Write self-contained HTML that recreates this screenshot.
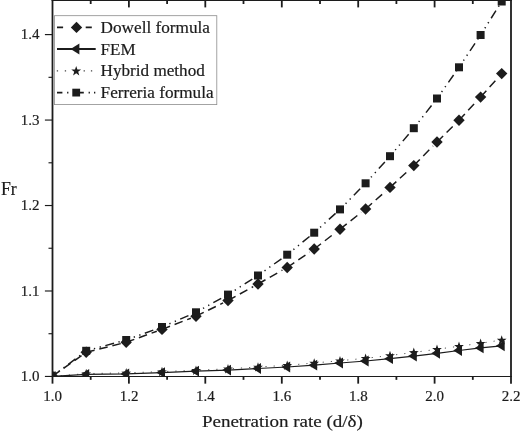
<!DOCTYPE html>
<html><head><meta charset="utf-8"><title>Fr vs penetration rate</title>
<style>html,body{margin:0;padding:0;background:#fff}svg{display:block}text{font-family:"Liberation Serif",serif;fill:#1c1c1c;stroke:#1c1c1c;stroke-width:0.2px}</style></head>
<body>
<svg width="520" height="432" viewBox="0 0 520 432">
<rect width="520" height="432" fill="#fff"/>
<defs><clipPath id="c"><rect x="52.5" y="0.4" width="458.5" height="376.05"/></clipPath></defs>
<g clip-path="url(#c)" stroke="#1c1c1c" fill="none" stroke-width="1.5">
<g stroke-dasharray="8.6 4.9">
<line x1="52.5" y1="376.2" x2="81.7" y2="355.5"/>
<line x1="86.2" y1="352.3" x2="120.9" y2="343.6"/>
<line x1="126.2" y1="342.3" x2="156.8" y2="331.3"/>
<line x1="162.0" y1="329.4" x2="190.9" y2="318.2"/>
<line x1="196.0" y1="316.2" x2="223.1" y2="302.9"/>
<line x1="228.0" y1="300.5" x2="253.2" y2="286.7"/>
<line x1="258.0" y1="284.0" x2="282.4" y2="270.2"/>
<line x1="287.2" y1="267.5" x2="309.7" y2="252.1"/>
<line x1="314.2" y1="249.0" x2="335.6" y2="232.5"/>
<line x1="340.0" y1="229.2" x2="361.3" y2="212.4"/>
<line x1="365.6" y1="209.0" x2="385.9" y2="191.0"/>
<line x1="390.0" y1="187.4" x2="409.7" y2="169.3"/>
<line x1="413.8" y1="165.6" x2="433.1" y2="145.9"/>
<line x1="437.0" y1="142.0" x2="455.1" y2="124.1"/>
<line x1="459.0" y1="120.2" x2="476.8" y2="101.1"/>
<line x1="480.6" y1="97.1" x2="498.0" y2="77.7"/>
</g>
<g stroke-dasharray="9 4.6 1.3 4.6 1.3 4.6" stroke-dashoffset="5.6">
<line x1="52.5" y1="376.2" x2="86.2" y2="350.8"/>
<line x1="86.2" y1="350.8" x2="126.2" y2="340.0"/>
<line x1="126.2" y1="340.0" x2="162.0" y2="327.0"/>
<line x1="162.0" y1="327.0" x2="196.0" y2="312.3"/>
<line x1="196.0" y1="312.3" x2="228.0" y2="294.6"/>
<line x1="228.0" y1="294.6" x2="258.0" y2="275.5"/>
<line x1="258.0" y1="275.5" x2="287.2" y2="254.7"/>
<line x1="287.2" y1="254.7" x2="314.2" y2="232.7"/>
<line x1="314.2" y1="232.7" x2="340.0" y2="209.4"/>
<line x1="340.0" y1="209.4" x2="365.6" y2="183.3"/>
<line x1="365.6" y1="183.3" x2="390.0" y2="156.2"/>
<line x1="390.0" y1="156.2" x2="413.8" y2="128.2"/>
<line x1="413.8" y1="128.2" x2="437.0" y2="98.5"/>
<line x1="437.0" y1="98.5" x2="459.0" y2="67.3"/>
<line x1="459.0" y1="67.3" x2="480.6" y2="35.0"/>
<line x1="480.6" y1="35.0" x2="501.7" y2="1.5"/>
</g>
<polyline points="52.5,376.4 86.2,373.6 126.2,372.9 162.0,371.6 196.0,370.3 228.0,368.8 258.0,367.0 287.2,365.3 314.2,363.0 340.0,360.7 365.6,358.3 390.0,355.5 413.8,352.4 437.0,349.3 459.0,346.2 480.6,343.3 501.7,340.0" stroke-dasharray="1.2 7" stroke-width="1.0" stroke="#555"/>
<polyline points="52.5,376.4 86.2,374.4 126.2,373.9 162.0,372.6 196.0,371.2 228.0,370.1 258.0,368.5 287.2,367.0 314.2,365.2 340.0,363.0 365.6,361.0 390.0,358.7 413.8,356.1 437.0,353.3 459.0,350.5 480.6,347.9 501.7,345.8" stroke-width="1.25"/>
</g>
<g clip-path="url(#c)" fill="#1c1c1c">
<polygon points="52.5,370.5 58.2,376.2 52.5,381.9 46.8,376.2"/>
<polygon points="86.2,346.6 91.9,352.3 86.2,358.0 80.5,352.3"/>
<polygon points="126.2,336.6 131.9,342.3 126.2,348.0 120.5,342.3"/>
<polygon points="162.0,323.7 167.7,329.4 162.0,335.1 156.3,329.4"/>
<polygon points="196.0,310.5 201.7,316.2 196.0,321.9 190.3,316.2"/>
<polygon points="228.0,294.8 233.7,300.5 228.0,306.2 222.3,300.5"/>
<polygon points="258.0,278.3 263.7,284.0 258.0,289.7 252.3,284.0"/>
<polygon points="287.2,261.8 292.9,267.5 287.2,273.2 281.5,267.5"/>
<polygon points="314.2,243.3 319.9,249.0 314.2,254.7 308.5,249.0"/>
<polygon points="340.0,223.5 345.7,229.2 340.0,234.9 334.3,229.2"/>
<polygon points="365.6,203.3 371.3,209.0 365.6,214.7 359.9,209.0"/>
<polygon points="390.0,181.7 395.7,187.4 390.0,193.1 384.3,187.4"/>
<polygon points="413.8,159.9 419.5,165.6 413.8,171.3 408.1,165.6"/>
<polygon points="437.0,136.3 442.7,142.0 437.0,147.7 431.3,142.0"/>
<polygon points="459.0,114.5 464.7,120.2 459.0,125.9 453.3,120.2"/>
<polygon points="480.6,91.4 486.3,97.1 480.6,102.8 474.9,97.1"/>
<polygon points="501.7,67.9 507.4,73.6 501.7,79.3 496.0,73.6"/>
<rect x="48.5" y="372.2" width="8.0" height="8.0"/>
<rect x="82.2" y="346.8" width="8.0" height="8.0"/>
<rect x="122.2" y="336.0" width="8.0" height="8.0"/>
<rect x="158.0" y="323.0" width="8.0" height="8.0"/>
<rect x="192.0" y="308.3" width="8.0" height="8.0"/>
<rect x="224.0" y="290.6" width="8.0" height="8.0"/>
<rect x="254.0" y="271.5" width="8.0" height="8.0"/>
<rect x="283.2" y="250.7" width="8.0" height="8.0"/>
<rect x="310.2" y="228.7" width="8.0" height="8.0"/>
<rect x="336.0" y="205.4" width="8.0" height="8.0"/>
<rect x="361.6" y="179.3" width="8.0" height="8.0"/>
<rect x="386.0" y="152.2" width="8.0" height="8.0"/>
<rect x="409.8" y="124.2" width="8.0" height="8.0"/>
<rect x="433.0" y="94.5" width="8.0" height="8.0"/>
<rect x="455.0" y="63.3" width="8.0" height="8.0"/>
<rect x="476.6" y="31.0" width="8.0" height="8.0"/>
<rect x="497.7" y="-2.5" width="8.0" height="8.0"/>
<polygon points="46.7,376.4 55.5,371.0 55.5,381.8"/>
<polygon points="80.4,374.4 89.2,369.0 89.2,379.8"/>
<polygon points="120.4,373.9 129.2,368.5 129.2,379.3"/>
<polygon points="156.2,372.6 165.0,367.2 165.0,378.0"/>
<polygon points="190.2,371.2 199.0,365.8 199.0,376.6"/>
<polygon points="222.2,370.1 231.0,364.7 231.0,375.5"/>
<polygon points="252.2,368.5 261.0,363.1 261.0,373.9"/>
<polygon points="281.4,367.0 290.2,361.6 290.2,372.4"/>
<polygon points="308.4,365.2 317.2,359.8 317.2,370.6"/>
<polygon points="334.2,363.0 343.0,357.6 343.0,368.4"/>
<polygon points="359.8,361.0 368.6,355.6 368.6,366.4"/>
<polygon points="384.2,358.7 393.0,353.3 393.0,364.1"/>
<polygon points="408.0,356.1 416.8,350.7 416.8,361.5"/>
<polygon points="431.2,353.3 440.0,347.9 440.0,358.7"/>
<polygon points="453.2,350.5 462.0,345.1 462.0,355.9"/>
<polygon points="474.8,347.9 483.6,342.5 483.6,353.3"/>
<polygon points="495.9,345.8 504.7,340.4 504.7,351.2"/>
<polygon points="52.5,371.6 53.7,375.1 57.4,375.2 54.5,377.4 55.6,381.0 52.5,378.9 49.4,381.0 50.5,377.4 47.6,375.2 51.3,375.1"/>
<polygon points="86.2,368.8 87.4,372.3 91.1,372.4 88.2,374.6 89.3,378.2 86.2,376.1 83.1,378.2 84.2,374.6 81.3,372.4 85.0,372.3"/>
<polygon points="126.2,368.1 127.4,371.6 131.1,371.7 128.2,373.9 129.3,377.5 126.2,375.4 123.1,377.5 124.2,373.9 121.3,371.7 125.0,371.6"/>
<polygon points="162.0,366.8 163.2,370.3 166.9,370.4 164.0,372.6 165.1,376.2 162.0,374.1 158.9,376.2 160.0,372.6 157.1,370.4 160.8,370.3"/>
<polygon points="196.0,365.5 197.2,369.0 200.9,369.1 198.0,371.3 199.1,374.9 196.0,372.8 192.9,374.9 194.0,371.3 191.1,369.1 194.8,369.0"/>
<polygon points="228.0,364.0 229.2,367.5 232.9,367.6 230.0,369.8 231.1,373.4 228.0,371.3 224.9,373.4 226.0,369.8 223.1,367.6 226.8,367.5"/>
<polygon points="258.0,362.2 259.2,365.7 262.9,365.8 260.0,368.0 261.1,371.6 258.0,369.5 254.9,371.6 256.0,368.0 253.1,365.8 256.8,365.7"/>
<polygon points="287.2,360.5 288.4,364.0 292.1,364.1 289.2,366.3 290.3,369.9 287.2,367.8 284.1,369.9 285.2,366.3 282.3,364.1 286.0,364.0"/>
<polygon points="314.2,358.2 315.4,361.7 319.1,361.8 316.2,364.0 317.3,367.6 314.2,365.5 311.1,367.6 312.2,364.0 309.3,361.8 313.0,361.7"/>
<polygon points="340.0,355.9 341.2,359.4 344.9,359.5 342.0,361.7 343.1,365.3 340.0,363.2 336.9,365.3 338.0,361.7 335.1,359.5 338.8,359.4"/>
<polygon points="365.6,353.5 366.8,357.0 370.5,357.1 367.6,359.3 368.7,362.9 365.6,360.8 362.5,362.9 363.6,359.3 360.7,357.1 364.4,357.0"/>
<polygon points="390.0,350.7 391.2,354.2 394.9,354.3 392.0,356.5 393.1,360.1 390.0,358.0 386.9,360.1 388.0,356.5 385.1,354.3 388.8,354.2"/>
<polygon points="413.8,347.6 415.0,351.1 418.7,351.2 415.8,353.4 416.9,357.0 413.8,354.9 410.7,357.0 411.8,353.4 408.9,351.2 412.6,351.1"/>
<polygon points="437.0,344.5 438.2,348.0 441.9,348.1 439.0,350.3 440.1,353.9 437.0,351.8 433.9,353.9 435.0,350.3 432.1,348.1 435.8,348.0"/>
<polygon points="459.0,341.4 460.2,344.9 463.9,345.0 461.0,347.2 462.1,350.8 459.0,348.7 455.9,350.8 457.0,347.2 454.1,345.0 457.8,344.9"/>
<polygon points="480.6,338.5 481.8,342.0 485.5,342.1 482.6,344.3 483.7,347.9 480.6,345.8 477.5,347.9 478.6,344.3 475.7,342.1 479.4,342.0"/>
<polygon points="501.7,335.2 502.9,338.7 506.6,338.8 503.7,341.0 504.8,344.6 501.7,342.5 498.6,344.6 499.7,341.0 496.8,338.8 500.5,338.7"/>
</g>
<g stroke="#1c1c1c" stroke-width="1.8" fill="none">
<line x1="52.5" y1="0" x2="52.5" y2="377.0"/>
<line x1="511.0" y1="0" x2="511.0" y2="377.0"/>
<line x1="52.5" y1="376.45" x2="52.5" y2="383.65"/>
<line x1="90.7" y1="0.4" x2="90.7" y2="4.0"/>
<line x1="90.7" y1="376.45" x2="90.7" y2="379.84999999999997"/>
<line x1="128.9" y1="0.4" x2="128.9" y2="7.4"/>
<line x1="128.9" y1="376.45" x2="128.9" y2="383.65"/>
<line x1="167.1" y1="0.4" x2="167.1" y2="4.0"/>
<line x1="167.1" y1="376.45" x2="167.1" y2="379.84999999999997"/>
<line x1="205.3" y1="0.4" x2="205.3" y2="7.4"/>
<line x1="205.3" y1="376.45" x2="205.3" y2="383.65"/>
<line x1="243.5" y1="0.4" x2="243.5" y2="4.0"/>
<line x1="243.5" y1="376.45" x2="243.5" y2="379.84999999999997"/>
<line x1="281.8" y1="0.4" x2="281.8" y2="7.4"/>
<line x1="281.8" y1="376.45" x2="281.8" y2="383.65"/>
<line x1="320.0" y1="0.4" x2="320.0" y2="4.0"/>
<line x1="320.0" y1="376.45" x2="320.0" y2="379.84999999999997"/>
<line x1="358.2" y1="0.4" x2="358.2" y2="7.4"/>
<line x1="358.2" y1="376.45" x2="358.2" y2="383.65"/>
<line x1="396.4" y1="0.4" x2="396.4" y2="4.0"/>
<line x1="396.4" y1="376.45" x2="396.4" y2="379.84999999999997"/>
<line x1="434.6" y1="0.4" x2="434.6" y2="7.4"/>
<line x1="434.6" y1="376.45" x2="434.6" y2="383.65"/>
<line x1="472.8" y1="0.4" x2="472.8" y2="4.0"/>
<line x1="472.8" y1="376.45" x2="472.8" y2="379.84999999999997"/>
<line x1="511.0" y1="376.45" x2="511.0" y2="383.65"/>
</g>
<g stroke="#1c1c1c" stroke-width="1.15" fill="none">
<line x1="51.6" y1="0.4" x2="511.9" y2="0.4"/>
<line x1="51.6" y1="376.45" x2="511.9" y2="376.45"/>
<line x1="52.5" y1="376.45" x2="44.9" y2="376.45"/>
<line x1="52.5" y1="333.72" x2="48.5" y2="333.72"/>
<line x1="52.5" y1="290.99" x2="44.9" y2="290.99"/>
<line x1="52.5" y1="248.26" x2="48.5" y2="248.26"/>
<line x1="52.5" y1="205.53" x2="44.9" y2="205.53"/>
<line x1="52.5" y1="162.79" x2="48.5" y2="162.79"/>
<line x1="52.5" y1="120.06" x2="44.9" y2="120.06"/>
<line x1="52.5" y1="77.33" x2="48.5" y2="77.33"/>
<line x1="52.5" y1="34.60" x2="44.9" y2="34.60"/>
</g>
<g font-size="15px">
<text x="52.6" y="401.3" text-anchor="middle">1.0</text>
<text x="129.0" y="401.3" text-anchor="middle">1.2</text>
<text x="205.4" y="401.3" text-anchor="middle">1.4</text>
<text x="281.9" y="401.3" text-anchor="middle">1.6</text>
<text x="358.3" y="401.3" text-anchor="middle">1.8</text>
<text x="434.7" y="401.3" text-anchor="middle">2.0</text>
<text x="511.1" y="401.3" text-anchor="middle">2.2</text>
<text x="39.4" y="381.2" text-anchor="end">1.0</text>
<text x="39.4" y="295.8" text-anchor="end">1.1</text>
<text x="39.4" y="210.3" text-anchor="end">1.2</text>
<text x="39.4" y="124.9" text-anchor="end">1.3</text>
<text x="39.4" y="39.4" text-anchor="end">1.4</text>
</g>
<text x="0.9" y="194.6" font-size="17.8px">Fr</text>
<text x="201.9" y="426.6" font-size="17.5px" textLength="161" lengthAdjust="spacingAndGlyphs">Penetration rate (d/δ)</text>
<rect x="54.4" y="15.7" width="162.4" height="88.9" fill="#fff" stroke="#8c8c8c" stroke-width="0.8"/>
<g stroke="#1c1c1c" stroke-width="1.8" fill="none">
<path d="M57,27.4h6.1M85.7,27.4h6.1"/>
<path d="M57,49.0H95.7"/>
<path d="M56.8,70.8h1.3M64.8,70.8h1.3M83.6,70.8h1.3M90.9,70.8h1.3" stroke-width="1.2" stroke="#444"/>
<path d="M57,92.6h5.4M67.1,92.6h1.3M78,92.6h5.8M88.6,92.6h1.3M94,92.6h1.3"/>
</g>
<g fill="#1c1c1c">
<polygon points="76.5,21.7 82.2,27.4 76.5,33.1 70.8,27.4"/>
<polygon points="70.6,49.0 79.4,43.6 79.4,54.4"/>
<polygon points="76.2,66.0 77.4,69.5 81.1,69.6 78.2,71.8 79.3,75.4 76.2,73.3 73.1,75.4 74.2,71.8 71.3,69.6 75.0,69.5"/>
<rect x="72.3" y="88.7" width="7.8" height="7.8"/>
</g>
<g font-size="16px">
<text x="100.6" y="33.0" textLength="109.4" lengthAdjust="spacingAndGlyphs">Dowell formula</text>
<text x="100.6" y="54.6" textLength="35" lengthAdjust="spacingAndGlyphs">FEM</text>
<text x="100.6" y="76.4" textLength="104.2" lengthAdjust="spacingAndGlyphs">Hybrid method</text>
<text x="100.6" y="98.2" textLength="113" lengthAdjust="spacingAndGlyphs">Ferreria formula</text>
</g>
</svg></body></html>
